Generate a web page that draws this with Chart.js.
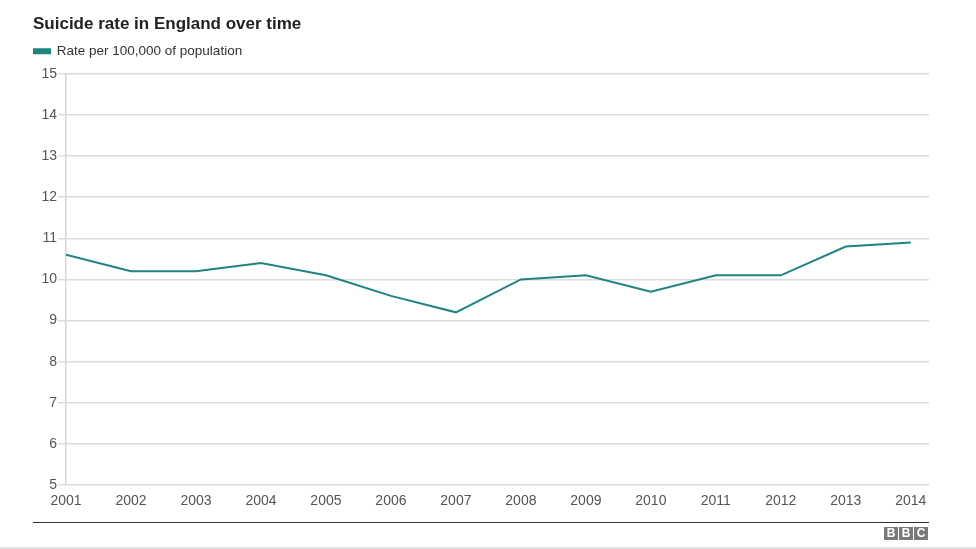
<!DOCTYPE html>
<html>
<head>
<meta charset="utf-8">
<script src="https://cdn.jsdelivr.net/npm/chart.js@4"></script>
<style>
  body { margin: 0; background: #fff; }
  #wrap { position: relative; width: 976px; height: 549px; overflow: hidden; }
  #rule { position: absolute; left: 33px; top: 522px; width: 896px; height: 0; border-top: 1.5px solid #333; }
  #bottomrule { position: absolute; left: 0; top: 547px; width: 976px; height: 2px; background: #e4e4e4; }
  #logo { position: absolute; left: 884px; top: 527px; display: flex; gap: 1px; }
  #logo span { width: 14px; height: 13px; background: #7a7a7a; color: #fff; font: bold 12px Arial, "Liberation Sans", sans-serif; text-align: center; line-height: 13px; }
</style>
</head>
<body>
<div id="wrap">
  <canvas id="grafico" width="976" height="549"></canvas>
  <div id="rule"></div>
  <div id="logo"><span>B</span><span>B</span><span>C</span></div>
  <div id="bottomrule"></div>
</div>
<script>
// Dados
const anos = [2001, 2002, 2003, 2004, 2005, 2006, 2007, 2008, 2009, 2010, 2011, 2012, 2013, 2014];
const taxas = [10.6, 10.2, 10.2, 10.4, 10.1, 9.6, 9.2, 10.0, 10.1, 9.7, 10.1, 10.1, 10.8, 10.9];
const ticksY = [5, 6, 7, 8, 9, 10, 11, 12, 13, 14, 15];

const titulo = "Suicide rate in England over time";
const legenda = "Rate per 100,000 of population";
const corLinha = "#1f8480";

Chart.defaults.font.family = 'Arial, "Liberation Sans", sans-serif';

// espaço extra abaixo da legenda
const espacoLegenda = {
    id: "espacoLegenda",
    beforeInit(chart) {
        const fitOriginal = chart.legend.fit;
        chart.legend.fit = function () {
            fitOriginal.bind(chart.legend)();
            this.height += 6;
        };
    }
};

const ctx = document.getElementById("grafico").getContext("2d");
new Chart(ctx, {
    type: "line",
    data: {
        datasets: [{
            label: legenda,
            data: anos.map((a, i) => ({ x: a, y: taxas[i] })),
            borderColor: corLinha,
            backgroundColor: corLinha,
            borderWidth: 2,
            pointRadius: 0,
            tension: 0
        }]
    },
    options: {
        responsive: false,
        animation: false,
        layout: { padding: { top: 14, left: 33, right: 47, bottom: 0 } },
        plugins: {
            title: {
                display: true,
                text: titulo,
                align: "start",
                color: "#222",
                font: { size: 17, weight: "bold" },
                padding: { top: 0, bottom: 10 }
            },
            legend: {
                align: "start",
                labels: {
                    boxWidth: 17,
                    boxHeight: 4,
                    padding: 0,
                    color: "#333",
                    font: { size: 13.5 }
                }
            },
            tooltip: { enabled: false }
        },
        scales: {
            x: {
                type: "linear",
                min: anos[0],
                max: 2014.28,
                afterBuildTicks: s => { s.ticks = anos.map(v => ({ value: v })); },
                afterFit: s => { s.height = 64; },
                grid: { display: false, drawTicks: false },
                border: { display: false },
                ticks: {
                    autoSkip: false,
                    maxRotation: 0,
                    padding: 8,
                    color: "#555",
                    font: { size: 14 },
                    callback: v => String(v)
                }
            },
            y: {
                min: 5,
                max: 15,
                afterBuildTicks: s => { s.ticks = ticksY.map(v => ({ value: v })); },
                afterFit: s => { s.width = 33; },
                grid: { color: "#dcdcdc", tickLength: 8, lineWidth: 1.5 },
                border: { color: "#d6d6d6", width: 1.5 },
                ticks: {
                    padding: 1,
                    color: "#555",
                    font: { size: 14 }
                }
            }
        }
    },
    plugins: [espacoLegenda]
});
</script>
</body>
</html>
